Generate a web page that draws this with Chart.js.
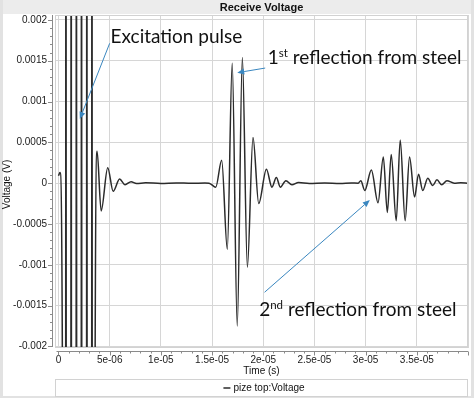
<!DOCTYPE html>
<html><head><meta charset="utf-8">
<script src="https://cdn.jsdelivr.net/npm/chart.js@4.4.1/dist/chart.umd.min.js"></script>
<style>html,body{margin:0;padding:0;background:#fff;overflow:hidden}</style>
</head><body>
<canvas id="c" width="474" height="398"></canvas>
<script>
const chartTitle = 'Receive Voltage';
const seriesLabel = 'pize top:Voltage';
const xAxisTitle = 'Time (s)';
const yAxisTitle = 'Voltage (V)';

// sample times (microseconds) and voltages (V)
const timeUs = [
  0, 0.15, 0.38, 0.50,
  0.69, 0.73, 0.77,
  1.20, 1.24, 1.28,
  1.71, 1.75, 1.79,
  2.21, 2.25, 2.29,
  2.73, 2.77, 2.81,
  3.23, 3.27, 3.31,
  3.45, 3.58, 3.77,
  4.17, 4.81, 5.34, 5.97, 6.50, 7.09, 7.62,
  8.5, 10.0, 11.5, 13.0, 14.3,
  14.71, 15.36, 15.94, 16.49, 16.97, 17.46, 17.96, 18.45, 19.00, 19.56,
  20.31, 20.85, 21.28, 21.67, 22.21, 22.80, 23.45,
  24.5, 26.0, 27.5, 28.6,
  29.27, 29.53, 29.92, 30.56, 31.21, 31.73, 32.12, 32.50, 32.99, 33.38,
  33.86, 34.29, 34.78, 35.17, 35.58, 36.07, 36.55, 36.97, 37.43, 37.94,
  38.66, 39.3, 39.95
];
const voltage = [
  0.00009, 0.00013, -0.0021, -0.01,
  -0.01, 0.01, -0.01,
  -0.01, 0.01, -0.01,
  -0.01, 0.01, -0.01,
  -0.01, 0.01, -0.01,
  -0.01, 0.01, -0.01,
  -0.01, 0.01, -0.01,
  -0.01, -0.0021, 0.00039,
  -0.00034, 0.00019, -0.0001, 0.00005, -0.00002, 0.000018, -0.000004,
  0.000004, -0.000003, 0.000003, -0.000002, 0.000002,
  0, -0.00005, 0.00028, -0.00081, 0.00147, -0.00175, 0.00154, -0.00103, 0.00056, -0.00025,
  0.00017, -0.00005, 0.00007, -0.00005, 0.00003, -0.00002, 0.000008,
  -0.000004, 0.000003, -0.000003, 0.000002,
  0, 0.00003, -0.00009, 0.00016, -0.00024, 0.00032, -0.00036, 0.00035, -0.00046, 0.00053,
  -0.00046, 0.00032, -0.00017, 0.00011, -0.00009, 0.00006, -0.00003, 0.00004, -0.00002, 0.00003,
  0, 0.000005, 0
];

const xTickValues = [0, 5e-6, 1e-5, 1.5e-5, 2e-5, 2.5e-5, 3e-5, 3.5e-5];
const xTickLabels = ['0', '5e-06', '1e-05', '1.5e-05', '2e-05', '2.5e-05', '3e-05', '3.5e-05'];
const yTickValues = [-0.002, -0.0015, -0.001, -0.0005, 0, 0.0005, 0.001, 0.0015, 0.002];
const yTickLabels = ['-0.002', '-0.0015', '-0.001', '-0.0005', '0', '0.0005', '0.001', '0.0015', '0.002'];

// callouts (anchored in data units)
const notes = [
  {parts: [['Excitation pulse', false]], tUs: 5.09, v: 0.001723},
  {parts: [['1', false], ['st', true], [' reflection from steel', false]], tUs: 20.45, v: 0.001459},
  {parts: [['2', false], ['nd', true], [' reflection from steel', false]], tUs: 19.6, v: -0.001629}
];
const arrows = [
  {fromUs: 5.0, fromV: 0.001713, toUs: 2.085, toV: 0.000786},
  {fromUs: 20.19, fromV: 0.001410, toUs: 17.46, toV: 0.001353},
  {fromUs: 20.13, fromV: -0.001337, toUs: 30.41, toV: -0.000207}
];

const X_MAJOR = 5e-6, Y_MAJOR = 0.0005;
const isMajor = (v, step) => Math.abs(v / step - Math.round(v / step)) < 1e-6;
const labelFor = (v, vals, labs) => {
  for (let i = 0; i < vals.length; i++) if (Math.abs(vals[i] - v) < 1e-12) return labs[i];
  return '';
};

const points = timeUs.map((t, i) => ({x: t * 1e-6, y: voltage[i]}));

const deco = {
  id: 'deco',
  beforeDraw(chart) {
    const {ctx, width, height} = chart;
    ctx.save();
    ctx.fillStyle = '#ffffff';
    ctx.fillRect(0, 0, width, height);
    ctx.fillStyle = '#ececec';
    ctx.fillRect(0, 0, width, 14);
    ctx.fillStyle = '#e2e2e2';
    ctx.fillRect(0, 0, 3, height);
    ctx.fillRect(width - 3, 0, 3, height);
    ctx.fillRect(0, height - 2, width, 2);
    ctx.restore();
  },
  afterDraw(chart) {
    const {ctx, chartArea: a} = chart;
    const xs = chart.scales.x, ys = chart.scales.y;
    ctx.save();
    // plot frame
    ctx.strokeStyle = '#d2d2d2';
    ctx.lineWidth = 1;
    ctx.strokeRect(a.left + 0.5, a.top + 0.5, a.width - 1, a.height - 1);
    // y axis line + ticks
    ctx.strokeStyle = '#8a8a8a';
    ctx.beginPath();
    const axX = a.left - 2.5;
    ctx.moveTo(axX, a.top);
    ctx.lineTo(axX, a.bottom - 1);
    ys.ticks.forEach(t => {
      const p = Math.round(ys.getPixelForValue(t.value)) + 0.5;
      const len = isMajor(t.value, Y_MAJOR) ? 4.5 : 2.5;
      ctx.moveTo(axX - len, p);
      ctx.lineTo(axX, p);
    });
    // x axis line + ticks
    const axY = a.bottom + 3.5;
    ctx.moveTo(a.left + 1.5, axY);
    ctx.lineTo(a.right, axY);
    xs.ticks.forEach(t => {
      const p = Math.round(xs.getPixelForValue(t.value)) + 0.5;
      const len = isMajor(t.value, X_MAJOR) ? 4 : 2;
      ctx.moveTo(p, axY);
      ctx.lineTo(p, axY + len);
    });
    ctx.stroke();

    // title
    ctx.fillStyle = '#111';
    ctx.font = 'bold 11px "Liberation Sans", Arial, sans-serif';
    ctx.textAlign = 'center';
    ctx.textBaseline = 'alphabetic';
    ctx.fillText(chartTitle, (a.left + a.right) / 2, 11);

    // axis titles
    ctx.font = '10px "Liberation Sans", Arial, sans-serif';
    ctx.textBaseline = 'middle';
    ctx.fillText(xAxisTitle, (a.left + a.right) / 2, 371);
    ctx.save();
    ctx.translate(7, (a.top + a.bottom) / 2 + 3);
    ctx.rotate(-Math.PI / 2);
    ctx.fillText(yAxisTitle, 0, 0);
    ctx.restore();

    // legend box
    ctx.fillStyle = '#ffffff';
    ctx.strokeStyle = '#d2d2d2';
    ctx.fillRect(a.left, 379, a.right - a.left, 17);
    ctx.strokeRect(a.left + 0.5, 379.5, a.right - a.left - 1, 17);
    const ds = chart.data.datasets[0];
    ctx.font = '10px "Liberation Sans", Arial, sans-serif';
    const lw = ctx.measureText(ds.label).width;
    const total = 10 + 3 + lw;
    const lx = (a.left + a.right) / 2 + 4 - total / 2;
    ctx.strokeStyle = ds.borderColor;
    ctx.lineWidth = 1.5;
    ctx.beginPath();
    ctx.moveTo(lx, 388);
    ctx.lineTo(lx + 7, 388);
    ctx.stroke();
    ctx.fillStyle = '#111';
    ctx.textAlign = 'left';
    ctx.fillText(ds.label, lx + 10, 388);

    // callout arrows
    ctx.strokeStyle = '#3a87c0';
    ctx.fillStyle = '#3a87c0';
    ctx.lineWidth = 1;
    arrows.forEach(ar => {
      const x1 = xs.getPixelForValue(ar.fromUs * 1e-6), y1 = ys.getPixelForValue(ar.fromV);
      const x2 = xs.getPixelForValue(ar.toUs * 1e-6), y2 = ys.getPixelForValue(ar.toV);
      const ang = Math.atan2(y2 - y1, x2 - x1);
      const hl = 7, hw = 3;
      const bx = x2 - hl * Math.cos(ang), by = y2 - hl * Math.sin(ang);
      ctx.beginPath();
      ctx.moveTo(x1, y1);
      ctx.lineTo(bx, by);
      ctx.stroke();
      ctx.beginPath();
      ctx.moveTo(x2, y2);
      ctx.lineTo(bx + hw * Math.sin(ang), by - hw * Math.cos(ang));
      ctx.lineTo(bx - hw * Math.sin(ang), by + hw * Math.cos(ang));
      ctx.closePath();
      ctx.fill();
    });

    // callout texts
    ctx.fillStyle = '#111';
    ctx.textBaseline = 'alphabetic';
    ctx.textAlign = 'left';
    notes.forEach(n => {
      let x = xs.getPixelForValue(n.tUs * 1e-6);
      const y = ys.getPixelForValue(n.v);
      n.parts.forEach(([txt, sup]) => {
        ctx.font = sup ? '11.5px Lato, "Open Sans", sans-serif' : '19px Lato, "Open Sans", sans-serif';
        ctx.fillText(txt, x, sup ? y - 7 : y);
        x += ctx.measureText(txt).width;
      });
    });
    ctx.restore();
  }
};

new Chart(document.getElementById('c'), {
  type: 'line',
  data: {
    datasets: [{
      label: seriesLabel,
      data: points,
      borderColor: '#2b2b2b',
      borderWidth: 1.5,
      pointRadius: 0,
      fill: false,
      cubicInterpolationMode: 'monotone'
    }]
  },
  options: {
    responsive: false,
    animation: false,
    events: [],
    layout: {padding: {top: 15, right: 3, left: 0, bottom: 0}},
    elements: {line: {capBezierPoints: false}},
    plugins: {legend: {display: false}, title: {display: false}, tooltip: {enabled: false}},
    scales: {
      x: {
        type: 'linear',
        min: -3.4e-7,
        max: 4e-5,
        afterFit: s => { s.height = 50; },
        border: {display: false},
        grid: {
          drawTicks: false,
          color: c => (c.tick && isMajor(c.tick.value, X_MAJOR)) ? '#d6d6d6' : 'rgba(0,0,0,0)'
        },
        ticks: {
          stepSize: 1e-6,
          includeBounds: false,
          autoSkip: false,
          maxRotation: 0,
          padding: 6,
          color: '#1a1a1a',
          font: {family: '"Liberation Sans", Arial, sans-serif', size: 10},
          callback: v => labelFor(v, xTickValues, xTickLabels)
        }
      },
      y: {
        min: -0.00202,
        max: 0.00206,
        afterFit: s => { s.width = 55; },
        border: {display: false},
        grid: {
          drawTicks: false,
          color: c => (c.tick && isMajor(c.tick.value, Y_MAJOR)) ? '#d6d6d6' : 'rgba(0,0,0,0)'
        },
        ticks: {
          stepSize: 0.0001,
          includeBounds: false,
          autoSkip: false,
          padding: 8,
          color: '#1a1a1a',
          font: {family: '"Liberation Sans", Arial, sans-serif', size: 10},
          callback: v => labelFor(v, yTickValues, yTickLabels)
        }
      }
    }
  },
  plugins: [deco]
});
</script>
</body></html>
